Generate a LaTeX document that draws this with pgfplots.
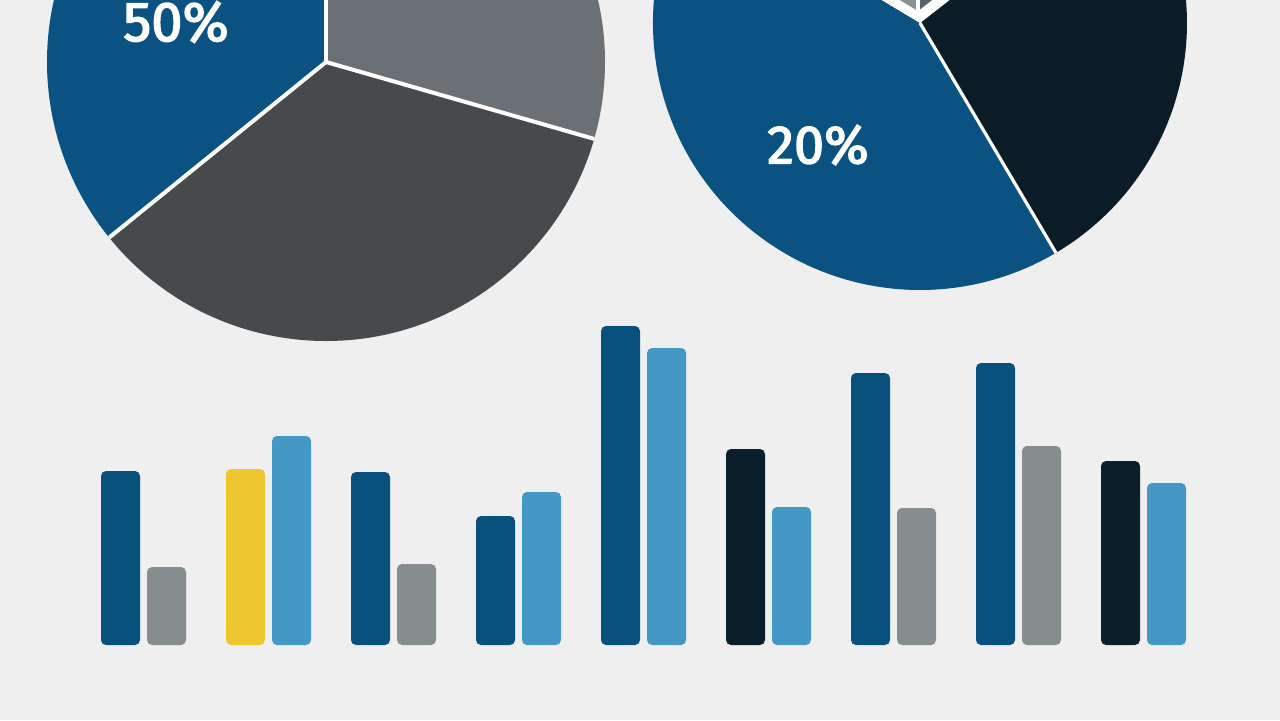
\documentclass[border=0pt]{standalone}
\usepackage{pgfplots}
\pgfplotsset{compat=1.18}
\usepackage{fontspec}
\setmainfont{Fira Sans}
\newfontfamily\labfont{Fira Sans}[FakeBold=2.6]
\definecolor{bg}{HTML}{EFEFEF}
\definecolor{pblue}{HTML}{0A5281}
\definecolor{pmgray}{HTML}{6B7075}
\definecolor{pdgray}{HTML}{464A4C}
\definecolor{pblack}{HTML}{0C1C26}
\definecolor{plgray}{HTML}{8C9195}
\definecolor{pgray2}{HTML}{5C6266}
\definecolor{dblue}{HTML}{08507E}
\definecolor{lblue}{HTML}{4398C5}
\definecolor{bgray}{HTML}{878C8F}
\definecolor{byellow}{HTML}{EEC630}
\definecolor{bblack}{HTML}{0B1F2A}
% slice: color, center x, center y, start angle, end angle, radius
\newcommand{\slice}[6]{\fill[#1] (axis cs:#2,#3) -- ++(#4:#6) arc[start angle=#4,end angle=#5,radius=#6] -- cycle;}
\newcommand{\sep}[4]{\draw[white,line width=2pt] (axis cs:#1,#2) -- ++(#3:#4);}
\begin{document}
\begin{tikzpicture}
\begin{axis}[
  scale only axis, width=640pt, height=360pt,
  xmin=0, xmax=1280, ymin=-75, ymax=645,
  hide axis, clip=true,
]
\fill[bg] (rel axis cs:0,0) rectangle (rel axis cs:1,1);
% left pie: center (326,583), r=279px
\slice{pblue}{326}{583}{90}{219}{139.5pt}
\slice{pdgray}{326}{583}{219}{344}{139.5pt}
\slice{pmgray}{326}{583}{-16}{90}{139.5pt}
\sep{326}{583}{90}{139.5pt}
\sep{326}{583}{219}{139.5pt}
\sep{326}{583}{344}{139.5pt}
\node[text=white, font=\labfont\fontsize{28}{30}\selectfont] at (axis cs:176,623) {50\%};
% right pie: center (920,622), r=267px
\slice{pblue}{920}{622}{149}{300.6}{133.5pt}
\slice{pblack}{920}{622}{-59.4}{38}{133.5pt}
\slice{white}{920}{622}{38}{149}{133.5pt}
\slice{pgray2}{918}{634}{38}{90}{133.5pt}
\slice{plgray}{918}{634}{90}{149}{133.5pt}
\sep{918}{634}{90}{133.5pt}
\draw[white,line width=1.6pt] (axis cs:920,622) -- ++(300.6:133.5pt);
\node[text=white, font=\labfont\fontsize{27}{29}\selectfont] at (axis cs:818,500) {20\%};
% bars
\pgfplotsset{barsty/.style={ybar, bar width=39, bar shift=0pt, draw=none, rounded corners=2.5pt}}
\addplot[barsty, fill=dblue] coordinates {(120.5,174) (370.5,173) (495.5,129) (620.5,319) (870.5,272) (995.5,282)};
\addplot[barsty, fill=byellow] coordinates {(245.5,176)};
\addplot[barsty, fill=bblack] coordinates {(745.5,196) (1120.5,184)};
\addplot[barsty, fill=bgray] coordinates {(166.5,78) (416.5,81) (916.5,137) (1041.5,199)};
\addplot[barsty, fill=lblue] coordinates {(291.5,209) (541.5,153) (666.5,297) (791.5,138) (1166.5,162)};
\end{axis}
\pgfresetboundingbox
\path[use as bounding box] (current axis.south west) rectangle (current axis.north east);
\end{tikzpicture}
\end{document}
